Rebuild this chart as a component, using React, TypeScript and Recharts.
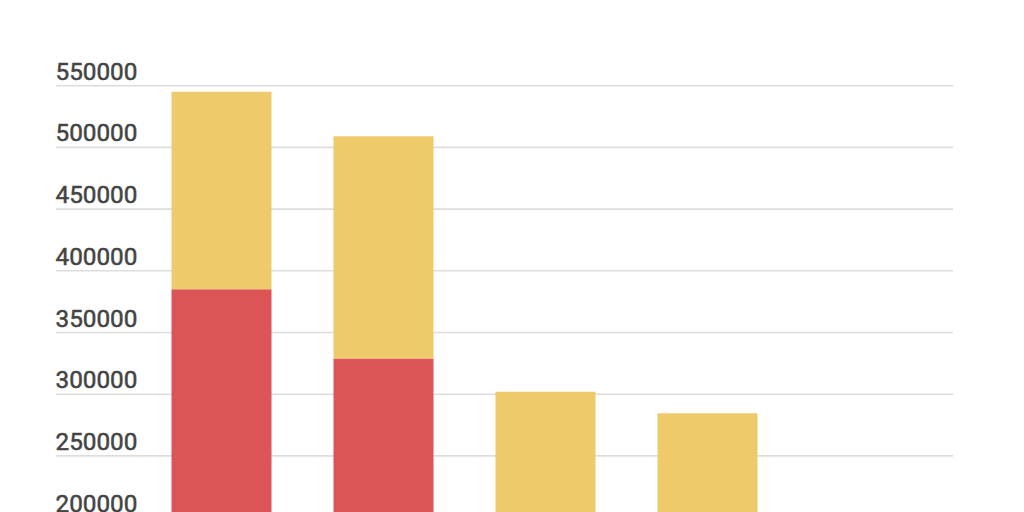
import React from "react";
import { BarChart, Bar, XAxis, YAxis, CartesianGrid } from "recharts";

const categories = ["A", "B", "C", "D"];
const redValues = [385000, 329000, 150000, 140000];
const yellowValues = [160000, 180000, 152000, 144500];
const yTicks = [0, 50000, 100000, 150000, 200000, 250000, 300000, 350000, 400000, 450000, 500000, 550000];

const data = categories.map((c, i) => ({
  name: c,
  red: redValues[i],
  yellow: yellowValues[i],
}));

const renderTick = (props: any) => {
  const { y, payload } = props;
  return (
    <text
      key={`t-${payload.value}`}
      x={47.5}
      y={y - 6}
      textAnchor="start"
      fill="#444444"
      stroke="#444444"
      strokeWidth={0.5}
      fontSize={24.3}
      fontWeight={400}
      fontFamily="Roboto"
    >
      {payload.value}
    </text>
  );
};

export default function App() {
  return (
    <div style={{ width: 1000, height: 770 }}>
      <BarChart
        width={1000}
        height={770}
        data={data}
        margin={{ top: 77.7, right: 55, bottom: 13.6, left: 38 }}
      >
        <CartesianGrid vertical={false} stroke="#dddddd" strokeWidth={1.6} />
        <XAxis dataKey="name" hide padding={{ left: 84.5, right: 164.5 }} />
        <YAxis
          width={10}
          domain={[0, 550000]}
          ticks={yTicks}
          axisLine={false}
          tickLine={false}
          tick={renderTick}
          interval={0}
        />
        <Bar dataKey="red" stackId="s" fill="#DC5456" barSize={100} isAnimationActive={false} />
        <Bar dataKey="yellow" stackId="s" fill="#EECA6B" barSize={100} isAnimationActive={false} />
      </BarChart>
    </div>
  );
}
